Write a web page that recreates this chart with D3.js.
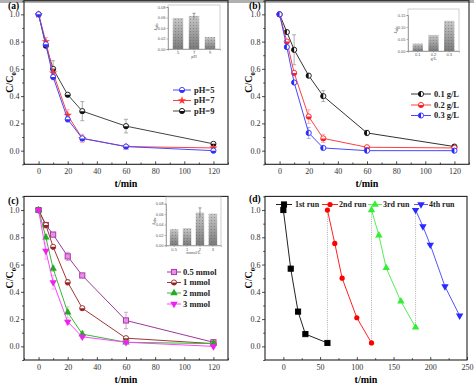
<!DOCTYPE html>
<html>
<head>
<meta charset="utf-8">
<script src="https://cdn.jsdelivr.net/npm/d3@7"></script>
<style>
  body { margin: 0; background: #fff; }
  svg { display: block; font-family: "Liberation Serif", "Times New Roman", serif; }
</style>
</head>
<body>
<div id="chart"></div>
<script>
// ---- data ----
const tKin = [0, 5, 10, 20, 30, 60, 120];

// (a) pH
const pH5 = [1.0, 0.78, 0.54, 0.23, 0.09, 0.03, 0.0];
const pH5Err = [0, 0.01, 0.02, 0.02, 0.02, 0.01, 0.01];
const pH7 = [1.0, 0.80, 0.57, 0.26, 0.09, 0.03, 0.02];
const pH7Err = [0, 0.03, 0.03, 0.04, 0.03, 0.01, 0.01];
const pH9 = [1.0, 0.77, 0.60, 0.41, 0.29, 0.18, 0.05];
const pH9Err = [0, 0.01, 0.06, 0.01, 0.07, 0.05, 0.01];
const insetACats = ["5", "7", "9"];
const insetAVals = [0.059, 0.063, 0.023];
const insetAErr = [0.001, 0.005, 0.001];

// (b) dosage
const g01 = [1.0, 0.87, 0.74, 0.55, 0.40, 0.13, 0.03];
const g01Err = [0, 0.01, 0.11, 0.01, 0.04, 0.02, 0.01];
const g02 = [1.0, 0.80, 0.57, 0.25, 0.09, 0.025, 0.02];
const g02Err = [0, 0.01, 0.02, 0.05, 0.03, 0.01, 0.01];
const g03 = [1.0, 0.76, 0.50, 0.13, 0.02, 0.0, 0.0];
const g03Err = [0, 0.01, 0.01, 0.04, 0.01, 0.01, 0.005];
const insetBCats = ["0.1", "0.2", "0.3"];
const insetBVals = [0.031, 0.067, 0.126];
const insetBErr = [0, 0, 0];

// (c) oxidant
const m05 = [1.0, 0.89, 0.82, 0.66, 0.52, 0.19, 0.03];
const m05Err = [0, 0.02, 0.01, 0.03, 0.01, 0.06, 0.01];
const m1 = [1.0, 0.89, 0.73, 0.47, 0.28, 0.06, 0.02];
const m1Err = [0, 0.01, 0.01, 0.02, 0.01, 0.01, 0.01];
const m2 = [1.0, 0.80, 0.57, 0.25, 0.09, 0.03, 0.02];
const m2Err = [0, 0.02, 0.02, 0.04, 0.02, 0.01, 0.01];
const m3 = [1.0, 0.70, 0.47, 0.18, 0.07, 0.03, 0.0];
const m3Err = [0, 0.06, 0.05, 0.02, 0.01, 0.01, 0.01];
const insetCCats = ["0.5", "1", "2", "3"];
const insetCVals = [0.031, 0.033, 0.063, 0.061];
const insetCErr = [0.001, 0.001, 0.009, 0.001];

// (d) reuse runs
const run1T = [0, 10, 20, 30, 60];
const run1 = [1.0, 0.57, 0.255, 0.09, 0.025];
const run2T = [60, 70, 80, 100, 120];
const run2 = [1.0, 0.755, 0.50, 0.21, 0.025];
const run3T = [120, 130, 140, 160, 180];
const run3 = [1.0, 0.815, 0.575, 0.33, 0.14];
const run4T = [180, 190, 200, 220, 240];
const run4 = [1.0, 0.88, 0.745, 0.44, 0.225];
const runBreaks = [60, 120, 180];
const runBreakLow = [0.025, 0.025, 0.14];

const yTicks = [0, 0.2, 0.4, 0.6, 0.8, 1.0];
const yMinor = [-0.1, 0.1, 0.3, 0.5, 0.7, 0.9, 1.1];

// ---- drawing ----
const W = 474, H = 384;
const svg = d3.select("#chart").append("svg").attr("width", W).attr("height", H);
svg.append("rect").attr("width", W).attr("height", H).attr("fill", "#fff");
svg.append("rect").attr("width", W).attr("height", 3).attr("fill", "#b0b0b0");

const defs = svg.append("defs");
const grad = defs.append("linearGradient").attr("id", "barGrad")
  .attr("x1", 0).attr("y1", 0).attr("x2", 0).attr("y2", 1);
grad.append("stop").attr("offset", "0%").attr("stop-color", "#c8c8c8");
grad.append("stop").attr("offset", "100%").attr("stop-color", "#7a7a7a");
const pat = defs.append("pattern").attr("id", "dots").attr("patternUnits", "userSpaceOnUse")
  .attr("width", 3).attr("height", 3);
pat.append("circle").attr("cx", 1.5).attr("cy", 1.5).attr("r", 0.6).attr("fill", "#555").attr("opacity", 0.5);

function makePanel(p) {
  const g = svg.append("g");
  const x = d3.scaleLinear().domain(p.xDom).range([p.left, p.right]);
  const y = d3.scaleLinear().domain([-0.1, 1.1]).range([p.bottom, p.top]);

  // minor ticks
  g.append("g").attr("transform", `translate(0,${p.bottom})`)
    .call(d3.axisBottom(x).tickValues(p.xMinor).tickSizeInner(-1.8).tickSizeOuter(0).tickFormat(""))
    .call(a => a.select(".domain").remove());
  g.append("g").attr("transform", `translate(${p.left},0)`)
    .call(d3.axisLeft(y).tickValues(yMinor).tickSizeInner(1.8).tickSizeOuter(0).tickFormat(""))
    .call(a => a.select(".domain").remove());

  const xa = g.append("g").attr("transform", `translate(0,${p.bottom})`)
    .call(d3.axisBottom(x).tickValues(p.xTicks).tickSizeInner(-3).tickSizeOuter(0).tickPadding(4));
  const ya = g.append("g").attr("transform", `translate(${p.left},0)`)
    .call(d3.axisLeft(y).tickValues(yTicks).tickSizeInner(3).tickSizeOuter(0).tickPadding(1.5)
      .tickFormat(d3.format(".1f")));
  [xa, ya].forEach(a => {
    a.selectAll("text").attr("font-size", 8).attr("font-family", "Liberation Serif, serif").attr("fill", "#333");
    a.select(".domain").remove();
  });
  g.selectAll(".tick line").attr("stroke", "#222").attr("stroke-width", 0.8);

  g.append("rect").attr("x", p.left).attr("y", p.top)
    .attr("width", p.right - p.left).attr("height", p.bottom - p.top)
    .attr("fill", "none").attr("stroke", "#222").attr("stroke-width", 1.1);

  g.append("text").attr("x", p.labX).attr("y", p.labY).attr("font-size", 9.5).attr("font-weight", "bold")
    .text(p.label);
  const yt = g.append("text").attr("transform", `translate(${p.yTitleX},${(p.top + p.bottom) / 2}) rotate(-90)`)
    .attr("text-anchor", "middle").attr("font-size", 10).attr("font-weight", "bold");
  yt.append("tspan").text("C/C");
  yt.append("tspan").attr("font-size", 6.5).attr("dy", 2.5).text("0");
  g.append("text").attr("x", (p.left + p.right) / 2).attr("y", p.bottom + 22.5)
    .attr("text-anchor", "middle").attr("font-size", 10).attr("font-weight", "bold").text("t/min");

  return { g, x, y };
}

function marker(g, type, color, cx, cy, fill) {
  const r = 2.6;
  const m = g.append("g").attr("transform", `translate(${cx},${cy})`);
  if (type === "half" || type === "halfL") {
    m.append("circle").attr("r", r).attr("fill", "#fff").attr("stroke", color).attr("stroke-width", 0.9);
    const arc = type === "half"
      ? `M${-r},0 A${r},${r} 0 0 0 ${r},0 Z`
      : `M0,${-r} A${r},${r} 0 0 0 0,${r} Z`;
    m.append("path").attr("d", arc).attr("fill", color);
  } else if (type === "circle") {
    m.append("circle").attr("r", r).attr("fill", color);
  } else if (type === "square") {
    m.append("rect").attr("x", -r).attr("y", -r).attr("width", 2 * r).attr("height", 2 * r)
      .attr("fill", fill || color).attr("stroke", color).attr("stroke-width", 0.9);
  } else if (type === "star") {
    m.append("path").attr("d", d3.symbol(d3.symbolStar, 22)()).attr("fill", color);
  } else if (type === "tri") {
    m.append("path").attr("d", d3.symbol(d3.symbolTriangle, 24)()).attr("fill", color);
  } else if (type === "triDown") {
    m.append("path").attr("d", d3.symbol(d3.symbolTriangle, 24)()).attr("transform", "rotate(180)").attr("fill", color);
  }
}

function drawSeries(P, t, v, e, s) {
  const line = d3.line().x((d, i) => P.x(t[i])).y(d => P.y(d));
  if (e) {
    const eb = P.g.append("g").attr("stroke", s.err).attr("stroke-width", 0.8);
    v.forEach((d, i) => {
      if (!e[i]) return;
      const cx = P.x(t[i]), y0 = P.y(d - e[i]), y1 = P.y(d + e[i]);
      eb.append("line").attr("x1", cx).attr("x2", cx).attr("y1", y0).attr("y2", y1);
      eb.append("line").attr("x1", cx - 2).attr("x2", cx + 2).attr("y1", y0).attr("y2", y0);
      eb.append("line").attr("x1", cx - 2).attr("x2", cx + 2).attr("y1", y1).attr("y2", y1);
    });
  }
  P.g.append("path").attr("d", line(v)).attr("fill", "none").attr("stroke", s.line).attr("stroke-width", 1);
  v.forEach((d, i) => marker(P.g, s.mk, s.color, P.x(t[i]), P.y(d), s.fill));
}

function legend(P, items, x0, x1, tx, ys, fs) {
  items.forEach((s, i) => {
    P.g.append("line").attr("x1", x0).attr("x2", x1).attr("y1", ys[i]).attr("y2", ys[i])
      .attr("stroke", s.line).attr("stroke-width", 1);
    marker(P.g, s.mk, s.color, (x0 + x1) / 2, ys[i], s.fill);
    P.g.append("text").attr("x", tx).attr("y", ys[i]).attr("dy", "0.35em")
      .attr("font-size", fs).attr("font-weight", "bold").attr("fill", "#222").text(s.name);
  });
}

function inset(c) {
  const g = svg.append("g");
  const x = d3.scaleBand().domain(c.cats).range([c.left, c.right]).paddingInner(0.35).paddingOuter(0.3);
  const y = d3.scaleLinear().domain([0, c.yMax]).range([c.bottom, c.yTop]);
  g.append("rect").attr("x", c.left).attr("y", c.top).attr("width", c.right - c.left)
    .attr("height", c.bottom - c.top).attr("fill", "none").attr("stroke", "#bbb").attr("stroke-width", 0.7);
  c.vals.forEach((v, i) => {
    const bx = x(c.cats[i]);
    g.append("rect").attr("x", bx).attr("y", y(v)).attr("width", x.bandwidth())
      .attr("height", y(0) - y(v)).attr("fill", "url(#barGrad)");
    g.append("rect").attr("x", bx).attr("y", y(v)).attr("width", x.bandwidth())
      .attr("height", y(0) - y(v)).attr("fill", "url(#dots)");
    if (c.errs[i] > 0.002) {
      const cx = bx + x.bandwidth() / 2;
      g.append("line").attr("x1", cx).attr("x2", cx).attr("y1", y(v - c.errs[i])).attr("y2", y(v + c.errs[i]))
        .attr("stroke", "#555").attr("stroke-width", 0.6);
      g.append("line").attr("x1", cx - 1.5).attr("x2", cx + 1.5).attr("y1", y(v + c.errs[i])).attr("y2", y(v + c.errs[i]))
        .attr("stroke", "#555").attr("stroke-width", 0.6);
    }
  });
  const ya = g.append("g").attr("transform", `translate(${c.left},0)`)
    .call(d3.axisLeft(y).tickValues(c.yTicks).tickSize(1.5).tickPadding(1).tickFormat(d3.format(".2f")));
  const xa = g.append("g").attr("transform", `translate(0,${c.bottom})`)
    .call(d3.axisBottom(x).tickSize(1.5).tickPadding(1));
  [xa, ya].forEach(a => {
    a.selectAll("text").attr("font-size", 4).attr("fill", "#555");
    a.selectAll("line").attr("stroke", "#777").attr("stroke-width", 0.5);
    a.select(".domain").attr("stroke", "#777").attr("stroke-width", 0.6);
  });
  g.append("text").attr("x", (c.left + c.right) / 2).attr("y", c.bottom + 9)
    .attr("text-anchor", "middle").attr("font-size", 4.5).attr("fill", "#555").text(c.xTitle);
  const kt = g.append("text").attr("transform", `translate(${c.left - 11},${(c.top + c.bottom) / 2}) rotate(-90)`)
    .attr("text-anchor", "middle").attr("font-size", 5).attr("font-style", "italic").attr("fill", "#444");
  kt.append("tspan").text("k");
  kt.append("tspan").attr("font-size", 3.5).attr("dy", 1.2).text("obs");
}

// ---- panel (a) ----
const PA = makePanel({ left: 24, right: 228, top: 0.7, bottom: 164.3, xDom: [-10, 130],
  xTicks: [0, 20, 40, 60, 80, 100, 120], xMinor: [-10, 10, 30, 50, 70, 90, 110, 130],
  label: "(a)", labX: 8, labY: 8.5, yTitleX: 13 });
const sA = [
  { name: "pH=5", line: "#4848ff", color: "#3030ff", err: "#a0a0ff", mk: "half" },
  { name: "pH=7", line: "#ff4040", color: "#ff3030", err: "#ffa0a0", mk: "star" },
  { name: "pH=9", line: "#444", color: "#111", err: "#999", mk: "half" }
];
drawSeries(PA, tKin, pH9, pH9Err, sA[2]);
drawSeries(PA, tKin, pH7, pH7Err, sA[1]);
drawSeries(PA, tKin, pH5, pH5Err, sA[0]);
legend(PA, sA, 173, 191, 194, [90, 100.5, 111], 8.5);
inset({ left: 168, right: 220, top: 5, bottom: 49, yTop: 7, yMax: 0.08, yTicks: [0, 0.02, 0.04, 0.06, 0.08],
  cats: insetACats, vals: insetAVals, errs: insetAErr, xTitle: "pH" });

// ---- panel (b) ----
const PB = makePanel({ left: 265, right: 469, top: 0.7, bottom: 164.3, xDom: [-10, 130],
  xTicks: [0, 20, 40, 60, 80, 100, 120], xMinor: [-10, 10, 30, 50, 70, 90, 110, 130],
  label: "(b)", labX: 249, labY: 8.5, yTitleX: 252 });
const sB = [
  { name: "0.1 g/L", line: "#333", color: "#111", err: "#999", mk: "halfL" },
  { name: "0.2 g/L", line: "#ff4040", color: "#ff2020", err: "#ffa0a0", mk: "half" },
  { name: "0.3 g/L", line: "#4848ff", color: "#2a2aff", err: "#a0a0ff", mk: "halfL" }
];
drawSeries(PB, tKin, g01, g01Err, sB[0]);
drawSeries(PB, tKin, g02, g02Err, sB[1]);
drawSeries(PB, tKin, g03, g03Err, sB[2]);
legend(PB, sB, 411, 431, 434, [94, 105, 115.5], 8.5);
inset({ left: 408, right: 459, top: 9, bottom: 51, yTop: 15, yMax: 0.15, yTicks: [0, 0.05, 0.10, 0.15],
  cats: insetBCats, vals: insetBVals, errs: insetBErr, xTitle: "g/L" });

// ---- panel (c) ----
const PC = makePanel({ left: 24, right: 228, top: 196.4, bottom: 360, xDom: [-10, 130],
  xTicks: [0, 20, 40, 60, 80, 100, 120], xMinor: [-10, 10, 30, 50, 70, 90, 110, 130],
  label: "(c)", labX: 8, labY: 204, yTitleX: 13 });
const sC = [
  { name: "0.5 mmol", line: "#9a3a9a", color: "#993399", fill: "#f08af0", err: "#c890c8", mk: "square" },
  { name: "1 mmol", line: "#a03838", color: "#992222", err: "#c89090", mk: "half" },
  { name: "2 mmol", line: "#33bb33", color: "#22aa22", err: "#99dd99", mk: "tri" },
  { name: "3 mmol", line: "#ff44ff", color: "#ee22ee", err: "#ffa0ff", mk: "triDown" }
];
drawSeries(PC, tKin, m05, m05Err, sC[0]);
drawSeries(PC, tKin, m1, m1Err, sC[1]);
drawSeries(PC, tKin, m2, m2Err, sC[2]);
drawSeries(PC, tKin, m3, m3Err, sC[3]);
legend(PC, sC, 167, 181, 183, [272, 282.5, 293, 304], 8.5);
inset({ left: 166, right: 221, top: 197, bottom: 245.3, yTop: 203.7, yMax: 0.08, yTicks: [0, 0.02, 0.04, 0.06, 0.08],
  cats: insetCCats, vals: insetCVals, errs: insetCErr, xTitle: "mmol/L" });

// ---- panel (d) ----
const PD = makePanel({ left: 265, right: 467, top: 196.4, bottom: 360, xDom: [-25, 250],
  xTicks: [0, 50, 100, 150, 200, 250], xMinor: [25, 75, 125, 175, 225],
  label: "(d)", labX: 249, labY: 202, yTitleX: 252 });
const sD = [
  { name: "1st run", line: "#222", color: "#000", mk: "square" },
  { name: "2nd run", line: "#ff2020", color: "#ff0000", mk: "circle" },
  { name: "3rd run", line: "#55ee55", color: "#33ee33", mk: "tri" },
  { name: "4th run", line: "#5555ff", color: "#2a2aff", mk: "triDown" }
];
runBreaks.forEach((b, i) => {
  PD.g.append("line").attr("x1", PD.x(b)).attr("x2", PD.x(b))
    .attr("y1", PD.y(runBreakLow[i])).attr("y2", PD.y(1.0))
    .attr("stroke", "#999").attr("stroke-width", 0.8).attr("stroke-dasharray", "1,1.2");
});
drawSeries(PD, run1T, run1, null, sD[0]);
drawSeries(PD, run2T, run2, null, sD[1]);
drawSeries(PD, run3T, run3, null, sD[2]);
drawSeries(PD, run4T, run4, null, sD[3]);
const legX = [[276, 292, 295], [322, 338, 339], [368, 382, 383], [414, 428, 429]];
sD.forEach((s, i) => {
  const L = { g: PD.g };
  legend(L, [s], legX[i][0], legX[i][1], legX[i][2], [204.5], 8);
});
</script>
</body>
</html>
